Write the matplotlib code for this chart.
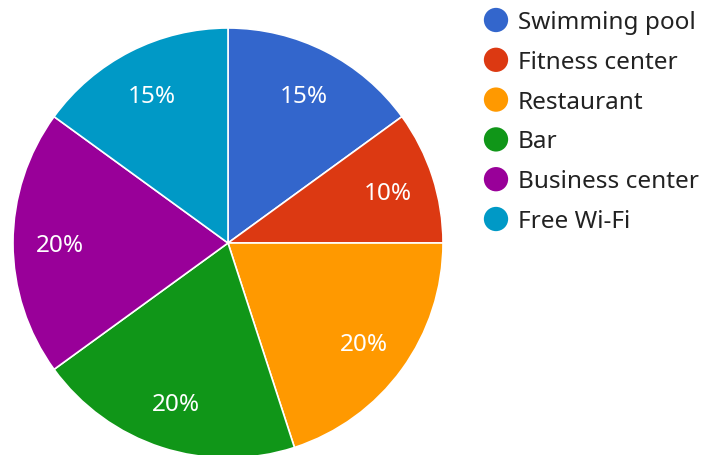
import matplotlib
matplotlib.use('Agg')
import matplotlib.pyplot as plt

plt.rcParams['font.family'] = ['Noto Sans', 'DejaVu Sans']

amenities = ['Swimming pool', 'Fitness center', 'Restaurant', 'Bar',
             'Business center', 'Free Wi-Fi']
shares = [15, 10, 20, 20, 20, 15]
colors = ['#3366cc', '#dc3912', '#ff9900', '#109618', '#990099', '#0099c6']

W, H = 702, 455
fig = plt.figure(figsize=(W / 100, H / 100), dpi=100)

# pie centre ~ (228, 243) px, radius ~215 px
cx, cy, r = 228, 243, 215
ax = fig.add_axes([(cx - r) / W, (H - cy - r) / H, 2 * r / W, 2 * r / H])
wedges, texts, autotexts = ax.pie(
    shares, colors=colors, startangle=90, counterclock=False,
    autopct='%d%%', pctdistance=0.78, radius=1,
    wedgeprops=dict(edgecolor='white', linewidth=1.2),
    textprops=dict(color='white', fontsize=17.5))
for t in autotexts:
    t.set_va('center_baseline')
ax.set_xlim(-1, 1)
ax.set_ylim(-1, 1)
ax.set_aspect('equal')

# legend drawn by hand in pixel coords
lg = fig.add_axes([0, 0, 1, 1])
lg.set_xlim(0, W)
lg.set_ylim(H, 0)
lg.axis('off')
for i, (name, col) in enumerate(zip(amenities, colors)):
    y = 20 + i * 39.8
    lg.scatter(496, y, s=(17.5) ** 2, color=col, edgecolors='none')
    lg.text(518, y, name, fontsize=17.5, color='#222222', va='center_baseline')

fig.savefig('out.png', dpi=100)
